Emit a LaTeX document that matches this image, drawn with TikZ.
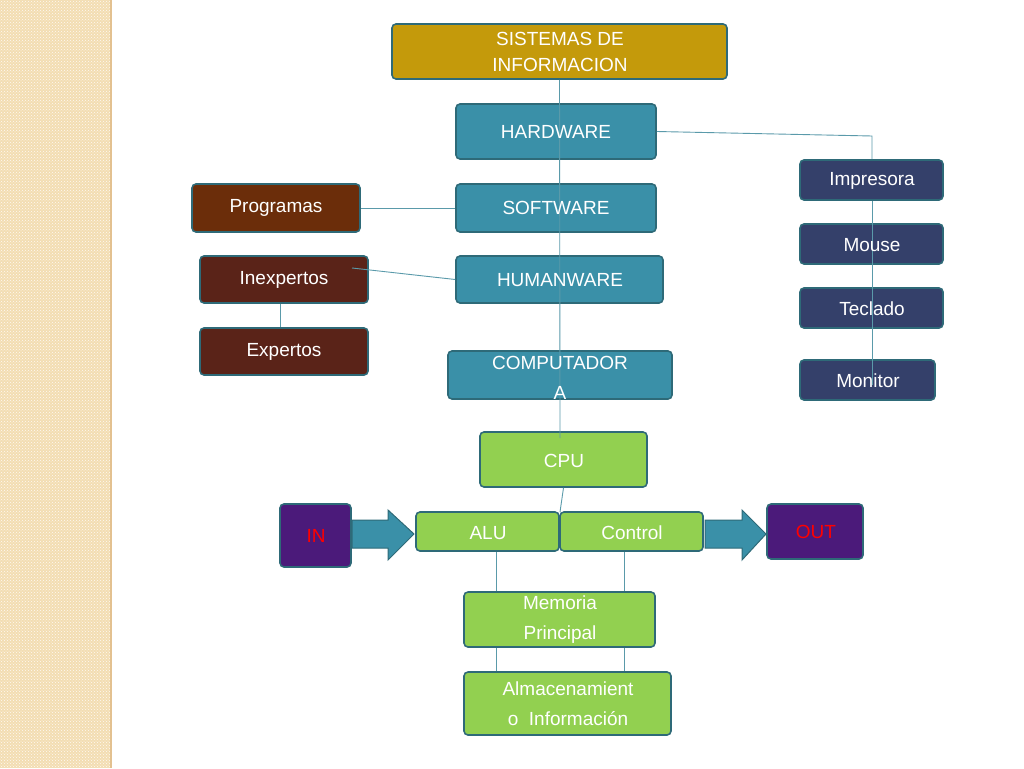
\documentclass[tikz,border=0pt]{standalone}
\usepackage{fontspec}
\setmainfont{Liberation Sans}
\usetikzlibrary{shapes.arrows,patterns}
\definecolor{gold}{HTML}{C49A0B}
\definecolor{teal}{HTML}{3A90A8}
\definecolor{bord}{HTML}{2E6A78}
\definecolor{brn}{HTML}{6B2D0A}
\definecolor{dbrn}{HTML}{5A2318}
\definecolor{navy}{HTML}{34406A}
\definecolor{grn}{HTML}{92D050}
\definecolor{purp}{HTML}{4B1A7A}
\definecolor{beige}{HTML}{F3DDB2}
\definecolor{ln}{HTML}{5A9AAA}
\tikzset{
 bx/.style={draw=bord,line width=1.6pt,rounded corners=4pt,text=white,align=center,font=\fontsize{19}{24}\selectfont},
 conn/.style={draw=ln,line width=0.9pt},
 barrow/.style={fill=teal,draw=bord,line width=1pt}
}
\newcommand{\bxat}[6]{\node[bx,fill=#5,minimum width=#3-#1,minimum height=#4-#2,inner sep=0pt] (#6) at ({(#1+#3)/2},{(#2+#4)/2}) {};}
\begin{document}
\begin{tikzpicture}[x=1pt,y=-1pt]
\useasboundingbox (0,0) rectangle (1024,768);
\fill[beige] (0,0) rectangle (110,768);
\fill[pattern=crosshatch dots,pattern color=white!85!beige] (0,0) rectangle (110,768);
\draw[color=beige!70!brown,line width=2pt] (111,0) -- (111,768);
% boxes
\bxat{392}{24}{727}{79}{gold}{sis}
\bxat{456}{104}{656}{159}{teal}{hw}
\bxat{456}{184}{656}{232}{teal}{sw}
\bxat{456}{256}{663}{303}{teal}{hu}
\bxat{448}{351}{672}{399}{teal}{co}
\bxat{192}{184}{360}{232}{brn}{pr}
\bxat{200}{256}{368}{303}{dbrn}{ine}
\bxat{200}{328}{368}{375}{dbrn}{exp}
\bxat{800}{160}{943}{200}{navy}{imp}
\bxat{800}{224}{943}{264}{navy}{mou}
\bxat{800}{288}{943}{328}{navy}{tec}
\bxat{800}{360}{935}{400}{navy}{mon}
\bxat{480}{432}{647}{487}{grn}{cpu}
\bxat{416}{512}{559}{551}{grn}{alu}
\bxat{560}{512}{703}{551}{grn}{ctl}
\bxat{280}{504}{351}{567}{purp}{in}
\bxat{767}{504}{863}{559}{purp}{out}
\bxat{464}{592}{655}{647}{grn}{mem}
\bxat{464}{672}{671}{735}{grn}{alm}
% block arrows
\draw[barrow] (352,520) -- (388,520) -- (388,510) -- (414,534) -- (388,560) -- (388,548) -- (352,548) -- cycle;
\draw[barrow] (705,520) -- (742,520) -- (742,510) -- (766,534) -- (742,560) -- (742,548) -- (705,548) -- cycle;
% connectors
\coordinate (c1) at (560,438);
\draw[conn] (sis.south) -- (c1);
\draw[conn] (cpu.south) -- (560,512);
\coordinate (h1) at (872,136);
\draw[conn] (hw.east) -- (h1) -- (imp.north -| h1);
\coordinate (m1) at (872,385);
\draw[conn] (imp.south -| h1) -- (m1);
\draw[conn] (pr.east) -- (sw.west);
\coordinate (i1) at (352,268);
\draw[conn] (i1) -- (hu.west);
\draw[conn] (ine.south -| 280,0) -- (exp.north -| 280,0);
\draw[conn] (alu.south -| 496,0) -- (mem.north -| 496,0);
\draw[conn] (ctl.south -| 624,0) -- (mem.north -| 624,0);
\draw[conn] (mem.south -| 496,0) -- (alm.north -| 496,0);
\draw[conn] (mem.south -| 624,0) -- (alm.north -| 624,0);
% texts
\tikzset{tx/.style={text=white,align=center,font=\fontsize{19}{30}\selectfont}}
\node[tx,font=\fontsize{19}{26}\selectfont] (tsis) at (560,52) {SISTEMAS DE\\INFORMACION};
\node[tx] (thw) at (556,132) {HARDWARE};
\node[tx] (tsw) at (556,208) {SOFTWARE};
\node[tx] (thu) at (560,280) {HUMANWARE};
\node[tx] (tco) at (560,378) {COMPUTADOR\\A};
\node[tx] (tpr) at (276,208) {Programas};
\node[tx] (tine) at (284,280) {Inexpertos};
\node[tx] (texp) at (284,352) {Expertos};
\node[tx] (timp) at (872,181) {Impresora};
\node[tx] (tmou) at (872,245) {Mouse};
\node[tx] (ttec) at (872,309) {Teclado};
\node[tx] (tmon) at (868,381) {Monitor};
\node[tx] (tcpu) at (564,461) {CPU};
\node[tx] (talu) at (488,533) {ALU};
\node[tx] (tctl) at (632,533) {Control};
\node[tx,text=red] (tin) at (316,536) {IN};
\node[tx,text=red] (tout) at (816,532) {OUT};
\node[tx] (tmem) at (560,620) {Memoria\\Principal};
\node[tx] (talm) at (568,704) {Almacenamient\\o\ \ Información};
\end{tikzpicture}
\end{document}
